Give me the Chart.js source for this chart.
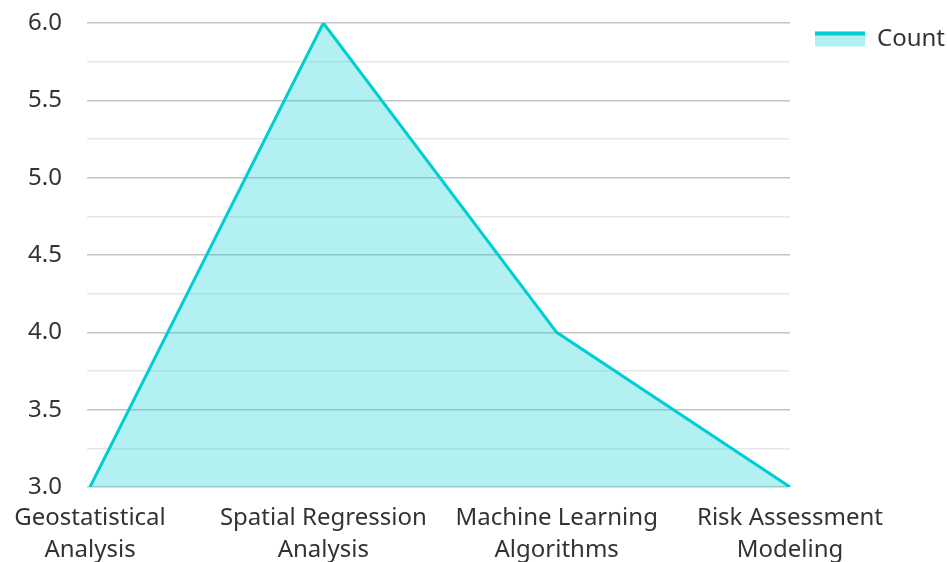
<!DOCTYPE html>
<html>
<head>
<meta charset="utf-8">
<script src="https://cdn.jsdelivr.net/npm/chart.js@4"></script>
<style>
html,body{margin:0;padding:0;background:#fff;overflow:hidden;}
#wrap{width:947px;height:562px;}
</style>
</head>
<body>
<div id="wrap"><canvas id="c" width="947" height="562"></canvas></div>
<script>
const categories = [["Geostatistical","Analysis"],["Spatial Regression","Analysis"],["Machine Learning","Algorithms"],["Risk Assessment","Modeling"]];
const countValues = [3, 6, 4, 3];
const seriesName = "Count";
const yMin = 3.0, yMax = 6.0;

const lineColor = 'rgb(0,206,209)';
const fillColor = 'rgba(0,206,209,0.3)';

Chart.defaults.font.family = "'Noto Sans', 'Open Sans', sans-serif";
Chart.defaults.font.size = 24;
Chart.defaults.color = '#333';

const legendTopLine = {
  id: 'legendTopLine',
  afterDraw(chart) {
    const lg = chart.legend;
    if (!lg || !lg.legendHitBoxes) return;
    const ctx = chart.ctx;
    const bw = chart.options.plugins.legend.labels.boxWidth;
    const bh = chart.options.plugins.legend.labels.boxHeight;
    lg.legendHitBoxes.forEach((hb) => {
      const y = hb.top + (hb.height - bh) / 2;
      ctx.save();
      ctx.fillStyle = lineColor;
      ctx.fillRect(hb.left, y, bw, 4);
      ctx.restore();
    });
  }
};

new Chart(document.getElementById('c'), {
  type: 'line',
  data: {
    labels: categories,
    datasets: [{
      label: seriesName,
      data: countValues,
      borderColor: lineColor,
      backgroundColor: fillColor,
      borderWidth: 3,
      fill: 'origin',
      pointRadius: 0,
      tension: 0
    }]
  },
  options: {
    responsive: false,
    animation: false,
    layout: { padding: { top: 2, right: -8, left: 0, bottom: 0 } },
    plugins: {
      legend: {
        position: 'right',
        align: 'start',
        labels: {
          boxWidth: 50, boxHeight: 15, font: { size: 24 }, color: '#333', padding: 25,
          generateLabels: (chart) => chart.data.datasets.map((ds, i) => ({
            text: ds.label, fillStyle: fillColor, strokeStyle: 'rgba(0,0,0,0)', lineWidth: 0,
            hidden: false, datasetIndex: i, fontColor: '#333'
          }))
        }
      },
      tooltip: { enabled: false }
    },
    scales: {
      x: {
        grid: { display: false },
        border: { display: false },
        ticks: { maxRotation: 0, autoSkip: false, padding: 8, color: '#333', font: { size: 24, lineHeight: 1.3 } },
        afterFit: (scale) => { scale.height = 75; }
      },
      y: {
        min: yMin, max: yMax,
        border: { display: false },
        grid: {
          color: (ctx) => (ctx.tick && Math.abs(ctx.tick.value * 2 - Math.round(ctx.tick.value * 2)) < 1e-6) ? '#c4c4c4' : '#e8e8e8',
          lineWidth: 1.5,
          tickLength: 3
        },
        ticks: {
          stepSize: 0.25,
          padding: 25,
          color: '#333',
          font: { size: 24 },
          callback: (v) => (Math.abs(v * 2 - Math.round(v * 2)) < 1e-6) ? v.toFixed(1) : ''
        },
        afterFit: (scale) => { scale.width = 90; scale.paddingTop = 23; scale.paddingBottom = 0; }
      }
    }
  },
  plugins: [legendTopLine]
});
</script>
</body>
</html>
